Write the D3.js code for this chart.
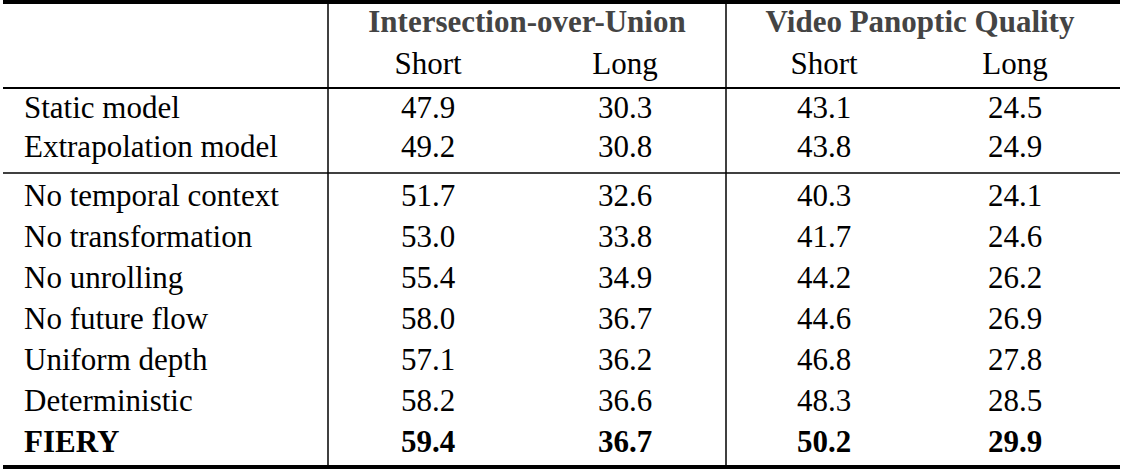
<!DOCTYPE html><html><head><meta charset="utf-8"><script src="https://cdn.jsdelivr.net/npm/d3@7"></script>
<style>body{margin:0;background:#fff}svg{display:block}text{font-family:'Liberation Serif','Times New Roman',Tinos,'DejaVu Serif',serif}</style></head><body><svg id="c" width="1123" height="474"></svg>
<script>
const groups=["Intersection-over-Union","Video Panoptic Quality"];
const subCols=["Short","Long","Short","Long"];
const rowLabels=["Static model","Extrapolation model","No temporal context","No transformation","No unrolling","No future flow","Uniform depth","Deterministic","FIERY"];
const iouShort=["47.9","49.2","51.7","53.0","55.4","58.0","57.1","58.2","59.4"];
const iouLong=["30.3","30.8","32.6","33.8","34.9","36.7","36.2","36.6","36.7"];
const vpqShort=["43.1","43.8","40.3","41.7","44.2","44.6","46.8","48.3","50.2"];
const vpqLong=["24.5","24.9","24.1","24.6","26.2","26.9","27.8","28.5","29.9"];
const svg=d3.select("#c");
const colX=[428,625,824,1015], grpX=[527,920];
const rowY=[118,157,206,247,288,329,370,411,452];
grpX.forEach((x,i)=>svg.append("text").attr("x",x).attr("y",32).attr("text-anchor","middle").attr("font-size",31).attr("font-weight","bold").attr("fill","#444").text(groups[i]));
subCols.forEach((t,i)=>svg.append("text").attr("x",colX[i]).attr("y",74).attr("text-anchor","middle").attr("font-size",31).text(t));
const cols=[iouShort,iouLong,vpqShort,vpqLong];
rowLabels.forEach((l,r)=>{const b=r===rowLabels.length-1;
 svg.append("text").attr("x",24).attr("y",rowY[r]).attr("font-size",31).attr("font-weight",b?"bold":"normal").text(l);
 cols.forEach((c,i)=>svg.append("text").attr("x",colX[i]).attr("y",rowY[r]).attr("text-anchor","middle").attr("font-size",31).attr("font-weight",b?"bold":"normal").text(c[r]));});
const line=(x1,y1,x2,y2,w)=>svg.append("line").attr("x1",x1).attr("y1",y1).attr("x2",x2).attr("y2",y2).attr("stroke","#000").attr("stroke-width",w);
line(3,2,1120,2,4);line(3,88,1120,88,2);line(3,173,1120,173,1.5);line(3,467,1120,467,4);
line(328,2,328,467,1.5);line(726,2,726,467,1.5);
</script></body></html>
